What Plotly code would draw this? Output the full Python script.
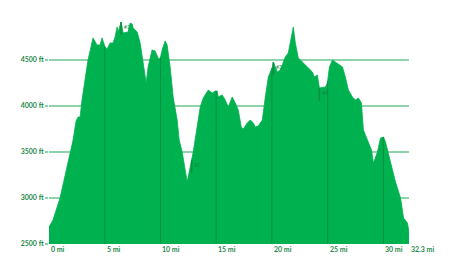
import numpy as np
import plotly.graph_objects as go

miles = [0.00, 0.36, 0.99, 1.89, 2.16, 2.43, 2.61, 2.79, 2.96, 3.50, 3.95, 4.31, 4.58, 4.76,
         5.03, 5.21, 5.48, 5.75, 5.93, 6.11, 6.20, 6.47, 6.65, 7.10, 7.28, 7.46, 7.55, 7.91,
         8.18, 8.45, 8.72, 8.89, 9.25, 9.52, 9.79, 9.97, 10.15, 10.42, 10.60, 10.87, 11.14,
         11.50, 11.68, 11.95, 12.40, 12.94, 13.30, 13.57, 13.84, 14.20, 14.29, 14.65, 14.91,
         15.09, 15.18, 15.54, 15.81, 16.08, 16.44, 16.71, 16.98, 17.25, 17.43, 17.79, 18.06,
         18.33, 18.51, 18.78, 19.14, 19.41, 19.68, 20.04, 20.13, 20.49, 20.75, 20.93, 21.20,
         21.47, 21.65, 21.92, 22.10, 22.37, 22.73, 23.18, 23.63, 23.81, 24.08, 24.26, 24.80,
         24.98, 25.16, 25.43, 25.70, 26.15, 26.33, 26.59, 26.86, 27.22, 27.49, 27.76, 28.03,
         28.21, 28.57, 28.93, 29.11, 29.47, 29.74, 30.01, 30.19, 30.64, 31.09, 31.54, 31.81,
         32.16, 32.30]
elev_ft = [2685, 2761, 3000, 3500, 3630, 3837, 3880, 3880, 4065, 4500, 4740, 4663, 4663, 4740,
           4641, 4620, 4685, 4685, 4750, 4859, 4804, 4913, 4794, 4804, 4902, 4891, 4848, 4804,
           4685, 4467, 4250, 4424, 4609, 4598, 4522, 4511, 4609, 4707, 4663, 4424, 4098,
           3848, 3630, 3500, 3174, 3500, 3772, 3989, 4087, 4152, 4174, 4141, 4163,
           4163, 4098, 4120, 4065, 3989, 4098, 4033, 3957, 3772, 3750, 3815, 3848,
           3815, 3772, 3783, 3848, 4098, 4315, 4424, 4478, 4370, 4391, 4446, 4533,
           4576, 4685, 4859, 4685, 4522, 4478, 4424, 4370, 4315, 4337, 4196, 4207,
           4250, 4424, 4500, 4478, 4446, 4424, 4315, 4174, 4098, 4065, 4087, 4033,
           3739, 3630, 3522, 3380, 3500, 3652, 3663, 3609, 3391, 3174, 3000, 2783,
           2728, 2630]

y_ticks = [2500, 3000, 3500, 4000, 4500]
y_tick_labels = ["2500 ft", "3000 ft", "3500 ft", "4000 ft", "4500 ft"]
x_ticks = [0, 5, 10, 15, 20, 25, 30, 32.3]
x_tick_labels = ["0 mi", "5 mi", "10 mi", "15 mi", "20 mi", "25 mi", "30 mi", "32.3 mi"]
flag_miles = [6.47, 12.8, 20.13, 24.26]
flag_labels = ["#1", "#2", "#3", "#4"]

FILL = "#00b14f"
DARK = "#0a8f40"
GRID = "#8fd3ab"
TEXT = "#1f8a4c"

fig = go.Figure()

fig.add_trace(go.Scatter(x=miles, y=elev_ft, mode="lines", fill="tozeroy",
                         fillcolor=FILL, line=dict(color=FILL, width=0.8),
                         hoverinfo="skip", showlegend=False))

# vertical mile lines inside the fill
vx, vy = [], []
for m in x_ticks[1:-1]:
    top = float(np.interp(m, miles, elev_ft))
    vx += [m, m, None]
    vy += [y_ticks[0], top, None]
fig.add_trace(go.Scatter(x=vx, y=vy, mode="lines", line=dict(color=DARK, width=1),
                         hoverinfo="skip", showlegend=False))

# flags
fx, fy = [], []
for m in flag_miles:
    top = float(np.interp(m, miles, elev_ft))
    fx += [m, m, None]
    fy += [top, top - 140, None]
fig.add_trace(go.Scatter(x=fx, y=fy, mode="lines", line=dict(color=DARK, width=1.5),
                         hoverinfo="skip", showlegend=False))
for m, lab in zip(flag_miles, flag_labels):
    top = float(np.interp(m, miles, elev_ft))
    fig.add_annotation(x=m, y=top, text=lab, showarrow=False, xanchor="left", yanchor="top",
                       xshift=0.5, font=dict(size=5, color=DARK, family="Lato"))

# x labels left aligned at ticks
for m, lab in zip(x_ticks, x_tick_labels):
    fig.add_annotation(x=m, y=0, xref="x", yref="paper", text="<b>%s</b>" % lab,
                       showarrow=False, xanchor="left", yanchor="top", yshift=1,
                       font=dict(size=7, color=TEXT, family="Lato"))

fig.update_layout(
    width=450, height=275,
    margin=dict(l=49, r=41, t=14, b=31),
    paper_bgcolor="white", plot_bgcolor="white",
    xaxis=dict(range=[0, 32.3], showgrid=False, zeroline=False, showticklabels=False,
               showline=False, fixedrange=True),
    yaxis=dict(range=[2500, 5000], tickvals=y_ticks,
               ticktext=["<b>%s</b>" % t for t in y_tick_labels],
               showgrid=True, gridcolor=GRID, gridwidth=1.5, zeroline=False,
               ticks="outside", ticklen=3, tickcolor=GRID, tickwidth=1.5,
               tickfont=dict(size=7, color=TEXT, family="Lato"), showline=False,
               layer="below traces"),
)

fig.write_html("out.html")
